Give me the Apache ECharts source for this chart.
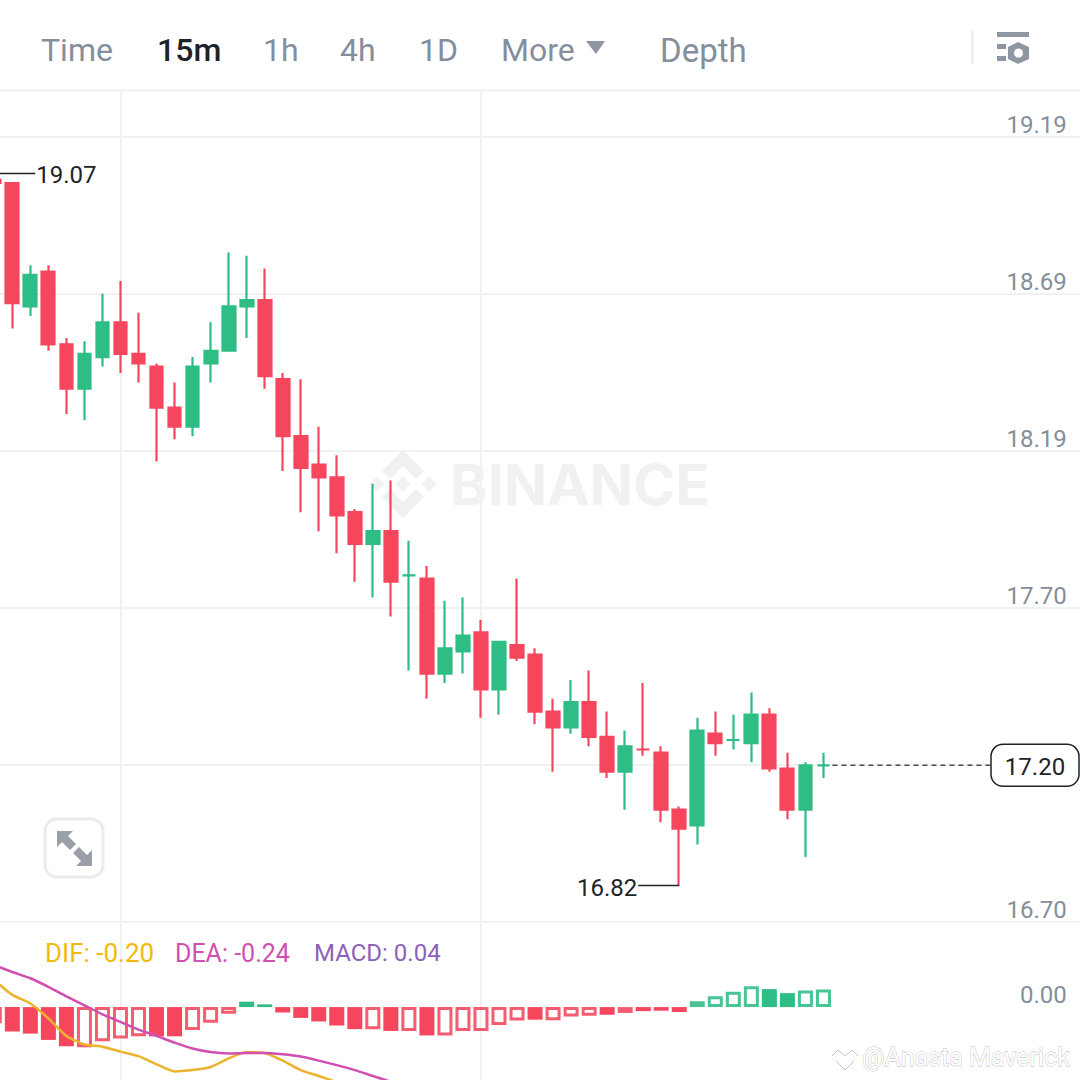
<!DOCTYPE html>
<html>
<head>
<meta charset="utf-8">
<title>15m</title>
<style>
  html, body { margin: 0; padding: 0; background: #fff; }
  #chart { width: 1080px; height: 1080px; }
</style>
<script src="https://cdn.jsdelivr.net/npm/echarts@6/dist/echarts.min.js"></script>
</head>
<body>
<div id="chart"></div>
<script>
// candles, oldest first. the first one is mostly off the left edge
var opens = [19.05, 19.04, 18.65, 18.76, 18.53, 18.39, 18.49, 18.60, 18.50, 18.46, 18.33, 18.27, 18.47, 18.51, 18.65, 18.67,
  18.42, 18.24, 18.15, 18.11, 18.00, 17.90, 17.94, 17.80, 17.79, 17.49, 17.56, 17.62, 17.44, 17.58, 17.55, 17.37,
  17.32, 17.40, 17.29, 17.18, 17.25, 17.24, 17.06, 17.01, 17.30, 17.28, 17.27, 17.36, 17.19, 17.06, 17.20];
var closes = [19.04, 18.66, 18.75, 18.53, 18.39, 18.50, 18.60, 18.50, 18.47, 18.33, 18.27, 18.46, 18.51, 18.65, 18.67, 18.43,
  18.24, 18.14, 18.11, 17.99, 17.90, 17.94, 17.78, 17.80, 17.49, 17.57, 17.61, 17.44, 17.59, 17.54, 17.37, 17.32,
  17.40, 17.29, 17.18, 17.26, 17.25, 17.06, 17.00, 17.31, 17.27, 17.28, 17.36, 17.19, 17.06, 17.20, 17.20];
var lows = [18.95, 18.58, 18.62, 18.51, 18.31, 18.29, 18.46, 18.44, 18.41, 18.16, 18.23, 18.24, 18.41, 18.51, 18.55, 18.39,
  18.13, 18.00, 17.94, 17.87, 17.78, 17.73, 17.67, 17.50, 17.41, 17.46, 17.49, 17.35, 17.36, 17.53, 17.33, 17.18,
  17.30, 17.26, 17.16, 17.06, 17.23, 17.02, 16.82, 16.95, 17.23, 17.25, 17.21, 17.18, 17.03, 16.91, 17.16];
var highs = [19.07, 19.04, 18.78, 18.78, 18.55, 18.54, 18.69, 18.73, 18.63, 18.47, 18.41, 18.49, 18.60, 18.82, 18.81, 18.77,
  18.44, 18.42, 18.27, 18.18, 18.01, 18.09, 18.10, 17.91, 17.83, 17.72, 17.73, 17.66, 17.59, 17.79, 17.57, 17.41,
  17.47, 17.50, 17.37, 17.31, 17.46, 17.26, 17.07, 17.35, 17.37, 17.36, 17.43, 17.38, 17.24, 17.21, 17.24];

var macdValues = [-0.036, -0.054, -0.059, -0.073, -0.087, -0.089, -0.076, -0.070, -0.065, -0.065, -0.065, -0.051, -0.035, -0.015, 0.012, 0.006,
  -0.012, -0.024, -0.032, -0.041, -0.049, -0.049, -0.053, -0.053, -0.063, -0.063, -0.053, -0.053, -0.040, -0.030, -0.028, -0.029,
  -0.021, -0.019, -0.017, -0.013, -0.009, -0.008, -0.011, 0.013, 0.024, 0.034, 0.046, 0.040, 0.031, 0.037, 0.039];
var macdHollow = [1, 0, 0, 0, 0, 1, 1, 1, 1, 0, 0, 1, 1, 1, 0, 0,
  0, 0, 0, 0, 0, 1, 0, 1, 0, 1, 1, 1, 1, 1, 0, 1,
  1, 1, 0, 1, 0, 0, 0, 1, 1, 1, 1, 0, 0, 1, 1];
// both lines leave the panel through the bottom, the rest is not visible
var difValues = [0.060, 0.027, 0.008, -0.025, -0.064, -0.083, -0.088, -0.099, -0.109, -0.127, -0.143, -0.140, -0.133, -0.114, -0.100, -0.102,
  -0.119, -0.140, -0.153, -0.167];
var deaValues = [0.093, 0.078, 0.064, 0.045, 0.024, 0.004, -0.016, -0.033, -0.050, -0.064, -0.079, -0.092, -0.100, -0.103, -0.102, -0.102,
  -0.105, -0.110, -0.119, -0.129, -0.140, -0.153, -0.166];

var tickValues = [19.185, 18.689, 18.193, 17.697, 17.201, 16.705];
var tickLabels = ['19.19', '18.69', '18.19', '17.70', '17.20', '16.70'];
var macdTickValues = [0];
var macdTickLabels = ['0.00'];

var highMark = [0, 19.07];
var lowMark = [38, 16.82];
var lastMark = [46, 17.20];

var categories = [];
for (var c = 0; c < 61; c++) categories.push('c' + c);

var red = '#f6465d';
var green = '#2ebd85';
var ink = '#1e2329';
var muted = '#848e9c';
var rule = '#f0f1f3';
var font = 'Roboto';

var candles = opens.map(function(o, i) { return [o, closes[i], lows[i], highs[i]]; });

var macdBars = macdValues.map(function(v, i) {
  var col = v > 0 ? green : red;
  if (macdHollow[i]) {
    return { value: v, itemStyle: { color: 'transparent', borderColor: col, borderWidth: 3, opacity: 0.88 } };
  }
  return { value: v, itemStyle: { color: col } };
});

function renderHigh(params, api) {
  var p = api.coord([api.value(0), api.value(1)]);
  return {
    type: 'group',
    children: [
      { type: 'line', shape: { x1: p[0], y1: p[1], x2: p[0] + 41, y2: p[1] }, style: { stroke: ink, lineWidth: 1.5 } },
      { type: 'text', style: { x: p[0] + 42, y: p[1] + 2, text: api.value(1).toFixed(2), fill: ink, font: '24px ' + font, textAlign: 'left', textVerticalAlign: 'middle' } }
    ]
  };
}

function renderLow(params, api) {
  var p = api.coord([api.value(0), api.value(1)]);
  return {
    type: 'group',
    children: [
      { type: 'line', shape: { x1: p[0], y1: p[1], x2: p[0] - 41, y2: p[1] }, style: { stroke: ink, lineWidth: 1.5 } },
      { type: 'text', style: { x: p[0] - 42, y: p[1] + 2, text: api.value(1).toFixed(2), fill: ink, font: '24px ' + font, textAlign: 'right', textVerticalAlign: 'middle' } }
    ]
  };
}

function renderLast(params, api) {
  var p = api.coord([api.value(0), api.value(1)]);
  var w = api.getWidth();
  return {
    type: 'group',
    children: [
      { type: 'line', shape: { x1: p[0] + 9, y1: p[1], x2: w - 90, y2: p[1] }, style: { stroke: '#474d57', lineWidth: 1.5, lineDash: [5, 4] } },
      { type: 'rect', shape: { x: w - 89, y: p[1] - 21, width: 88, height: 42, r: 12 }, style: { fill: '#fff', stroke: ink, lineWidth: 1.5 } },
      { type: 'text', style: { x: w - 45, y: p[1] + 2, text: api.value(1).toFixed(2), fill: ink, font: '24px ' + font, textAlign: 'center', textVerticalAlign: 'middle' } }
    ]
  };
}

// header, button and watermarks
function txt(x, y, s, size, color, weight) {
  return { type: 'text', z: 20, style: { x: x, y: y, text: s, fill: color, font: (weight || 'normal') + ' ' + size + 'px ' + font, textVerticalAlign: 'middle' } };
}
function poly(points, color, z) {
  return { type: 'polygon', z: z || 20, shape: { points: points }, style: { fill: color } };
}
function rect(x, y, w, h, color, r) {
  return { type: 'rect', z: 20, shape: { x: x, y: y, width: w, height: h, r: r || 0 }, style: { fill: color } };
}
function logo(cx, cy, k, color) {
  function at(pts) {
    return pts.map(function(q) { return [cx + q[0] * k, cy + q[1] * k]; });
  }
  function diamond(dx, dy, h) {
    return at([[dx, dy - h], [dx + h, dy], [dx, dy + h], [dx - h, dy]]);
  }
  return [
    poly(diamond(0, 0, 7.5), color, 1),
    poly(diamond(-26, 0, 7.5), color, 1),
    poly(diamond(26, 0, 7.5), color, 1),
    poly(at([[0, -34], [21, -13], [13, -5], [0, -18], [-13, -5], [-21, -13]]), color, 1),
    poly(at([[0, 34], [21, 13], [13, 5], [0, 18], [-13, 5], [-21, 13]]), color, 1)
  ];
}

var graphics = [
  rect(0, 89, 1080, 3, '#f5f5f5'),
  txt(41, 50, 'Time', 32, muted),
  txt(157, 50, '15m', 32, ink, '500'),
  txt(263, 50, '1h', 32, muted),
  txt(340, 50, '4h', 32, muted),
  txt(419, 50, '1D', 32, muted),
  txt(501, 50, 'More', 32, muted),
  txt(660, 50, 'Depth', 33, muted),
  poly([[586, 41], [605, 41], [596, 54]], '#8f96a3'),
  rect(971, 31, 3, 33, '#eff0f2'),
  rect(997, 32, 32, 5, '#8f96a3'),
  rect(997, 44, 9, 5, '#8f96a3'),
  rect(997, 56, 9, 5, '#8f96a3'),
  poly([[1018, 42], [1029, 47], [1029, 59], [1018, 64], [1008, 59], [1008, 47]], '#8f96a3'),
  { type: 'circle', z: 21, shape: { cx: 1018.5, cy: 53, r: 4.5 }, style: { fill: '#fff' } },
  { type: 'rect', z: 20, shape: { x: 45, y: 819, width: 58, height: 58, r: 12 }, style: { fill: '#fff', stroke: '#e9ebee', lineWidth: 3 } },
  poly([[57, 831], [73, 831], [68, 836], [76, 844], [70, 850], [62, 842], [57, 847]], '#9a9fa8'),
  poly([[92, 866], [76, 866], [81, 861], [73, 853], [79, 847], [87, 855], [92, 850]], '#9a9fa8'),
  txt(45, 953, 'DIF: -0.20', 26, '#f0b90b'),
  txt(175, 953, 'DEA: -0.24', 25, '#d14fb0'),
  txt(314, 953, 'MACD: 0.04', 24, '#8c62b8'),
  { type: 'text', z: 1, style: { x: 450, y: 484, text: 'BINANCE', fill: rule, font: 'bold 57px Inter', textVerticalAlign: 'middle' } },
  { type: 'text', z: 20, style: { x: 862, y: 1057, text: '@Anasta Maverick', fill: '#fff', stroke: '#b7b7b7', lineWidth: 0.8, font: '25px Roboto', textVerticalAlign: 'middle' } },
  { type: 'polyline', z: 20, shape: { points: [[832, 1056], [838, 1050], [845, 1056], [852, 1050], [858, 1056]] }, style: { fill: 'none', stroke: '#c4c4c4', lineWidth: 1 } },
  { type: 'polyline', z: 20, shape: { points: [[836, 1061], [845, 1070], [854, 1061]] }, style: { fill: 'none', stroke: '#c4c4c4', lineWidth: 1 } }
].concat(logo(403, 484, 1, rule));

var priceAxisLabel = {
  inside: true,
  margin: 18,
  color: muted,
  fontSize: 24,
  fontFamily: font,
  verticalAlign: 'bottom'
};

var chart = echarts.init(document.getElementById('chart'), null, { renderer: 'svg' });
chart.setOption({
  animation: false,
  backgroundColor: '#fff',
  graphic: graphics,
  grid: [
    { left: -14.7, top: 92, width: 1099.5, height: 830, outerBoundsMode: 'none' },
    { left: -14.7, top: 922, width: 1099.5, height: 158, outerBoundsMode: 'none' }
  ],
  xAxis: [0, 1].map(function(g) {
    return {
      type: 'category',
      gridIndex: g,
      data: categories,
      axisLine: { show: false },
      axisTick: { show: false },
      axisLabel: { show: false },
      splitLine: {
        show: true,
        alignWithLabel: true,
        interval: function(i) { return i === 7 || i === 27; },
        lineStyle: { color: rule, width: 2 }
      }
    };
  }),
  yAxis: [
    {
      type: 'value',
      gridIndex: 0,
      position: 'right',
      min: 16.705,
      max: 19.3275,
      axisLine: { show: false },
      axisTick: { show: false, customValues: tickValues },
      axisLabel: Object.assign({}, priceAxisLabel, {
        customValues: tickValues,
        formatter: function(v) { return tickLabels[tickValues.indexOf(v)]; }
      }),
      splitLine: { show: true, lineStyle: { color: rule, width: 2 } }
    },
    {
      type: 'value',
      gridIndex: 1,
      position: 'right',
      min: -0.162,
      max: 0.189,
      axisLine: { show: false },
      axisTick: { show: false, customValues: macdTickValues },
      axisLabel: Object.assign({}, priceAxisLabel, {
        customValues: macdTickValues,
        formatter: function(v) { return macdTickLabels[macdTickValues.indexOf(v)]; }
      }),
      splitLine: { show: false }
    }
  ],
  series: [
    {
      type: 'candlestick',
      xAxisIndex: 0,
      yAxisIndex: 0,
      data: candles,
      barWidth: 13.3,
      itemStyle: { color: green, color0: red, borderColor: green, borderColor0: red, borderWidth: 2.2 }
    },
    { type: 'custom', xAxisIndex: 0, yAxisIndex: 0, z: 10, data: [highMark], renderItem: renderHigh, clip: false },
    { type: 'custom', xAxisIndex: 0, yAxisIndex: 0, z: 10, data: [lowMark], renderItem: renderLow, clip: false },
    { type: 'custom', xAxisIndex: 0, yAxisIndex: 0, z: 10, data: [lastMark], renderItem: renderLast, clip: false },
    { type: 'bar', xAxisIndex: 1, yAxisIndex: 1, data: macdBars, barWidth: 15 },
    {
      type: 'line', xAxisIndex: 1, yAxisIndex: 1, data: difValues, showSymbol: false, smooth: 0.2, z: 5,
      lineStyle: { color: '#ecb32c', width: 2.5 }
    },
    {
      type: 'line', xAxisIndex: 1, yAxisIndex: 1, data: deaValues, showSymbol: false, smooth: 0.2, z: 6,
      lineStyle: { color: '#d14fb0', width: 2.5 }
    }
  ]
});
</script>
</body>
</html>
